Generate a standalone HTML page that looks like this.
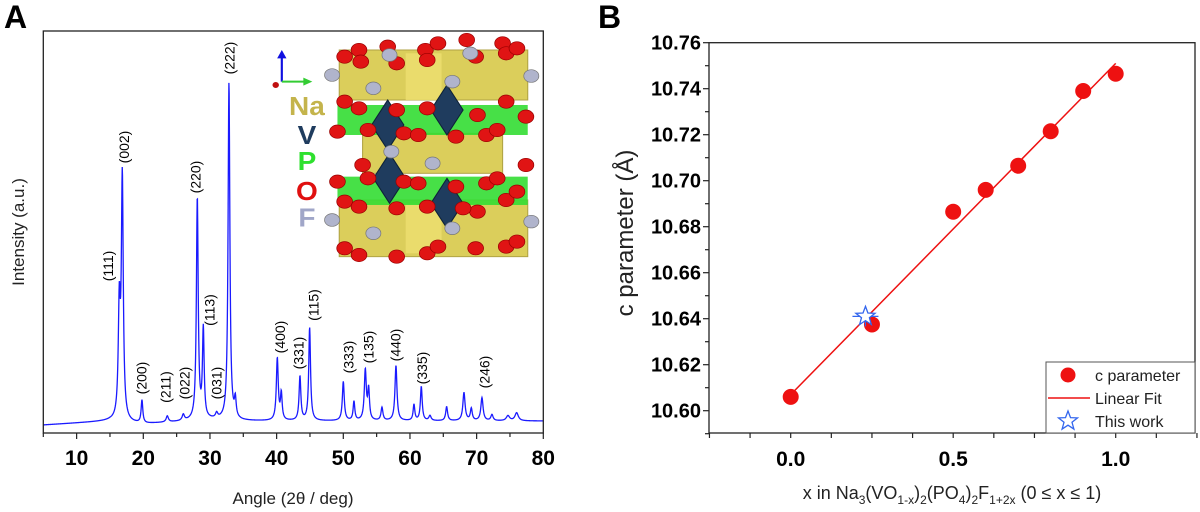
<!DOCTYPE html>
<html><head><meta charset="utf-8"><style>
html,body{margin:0;padding:0;background:#fff;width:1200px;height:512px;overflow:hidden}
svg{display:block;font-family:"Liberation Sans",Arial,sans-serif}
</style></head><body>
<svg id="fig" width="1200" height="512" viewBox="0 0 1200 512">
<text x="4" y="28" font-size="32" font-weight="bold">A</text>
<text x="598" y="28" font-size="32" font-weight="bold">B</text>
<g id="pa"></g>
<g id="inset" transform="scale(0.359,0.3333)"></g>
<g id="pb"></g>
</svg>
<script>
// ---------- Panel A data ----------
const peakPos   = [16.4,16.85,19.8,23.6,26.0,28.1,29.0,31.0,32.85,33.8,40.1,40.7,43.5,44.95,50.0,51.6,53.3,53.8,55.8,57.9,60.6,61.7,63.0,65.5,68.1,69.2,70.8,72.3,74.7,76.0];
const peakHeight= [110,240,23,6,6,222,89,5,338,18,62,26,44,93,39,19,50,30,13,55,16,34,5,14,28,12,23,6,5,8];
const peakWidth = [0.18,0.17,0.15,0.2,0.2,0.16,0.15,0.2,0.16,0.15,0.17,0.15,0.16,0.16,0.17,0.15,0.18,0.15,0.17,0.18,0.15,0.16,0.2,0.17,0.2,0.17,0.2,0.2,0.3,0.3];
const baseX = [5,10,15,20,25,30,35,40,50,60,70,80];
const baseY = [8,10,12,9,11,13,12,12,12,12,12,12];
const hklLabels = ["(111)","(002)","(200)","(211)","(022)","(220)","(113)","(031)","(222)","(400)","(331)","(115)","(333)","(135)","(440)","(335)","(246)"];
const hklX = [14.7,17.1,19.75,23.3,26.2,27.8,29.9,31.0,32.9,40.5,43.3,45.5,50.8,53.8,57.8,61.8,71.2];
const hklY = [167,286,55,46,50,256,123,50,375,96,80,128,76,86,88,65,61];
const xTicksA = [10,20,30,40,50,60,70,80];
const NS="http://www.w3.org/2000/svg";
function mk(parent,tag,attrs,text){const e=document.createElementNS(NS,tag);for(const k in attrs)e.setAttribute(k,attrs[k]);if(text!==undefined)e.textContent=text;parent.appendChild(e);return e;}
const A={l:43.3,r:543.3,t:31,b:433};
const ax=d=>A.l+(d-5)*(A.r-A.l)/75;
const ay=v=>A.b-v;
const pa=document.getElementById('pa');
function baseAt(d){for(let i=0;i<baseX.length-1;i++){if(d<=baseX[i+1]){const f=(d-baseX[i])/(baseX[i+1]-baseX[i]);return baseY[i]+f*(baseY[i+1]-baseY[i]);}}return baseY[baseY.length-1];}
let pts=[];
for(let d=5;d<=80.001;d+=0.04){let v=baseAt(d);for(let i=0;i<peakPos.length;i++){const z=(d-peakPos[i])/peakWidth[i];v+=peakHeight[i]/(1+z*z);}pts.push(ax(d).toFixed(2)+","+ay(v).toFixed(2));}
let sp=mk(pa,'polyline',{points:pts.join(' '),fill:'none',stroke:'#1a1aff','stroke-width':1.3});


let fr=mk(pa,'rect',{x:A.l,y:A.t,width:A.r-A.l,height:A.b-A.t,fill:'none',stroke:'#222','stroke-width':1.3});


for(let d=5;d<=80;d+=5){mk(pa,'line',{x1:ax(d),x2:ax(d),y1:A.b,y2:A.b+(d%10==0?6:4),stroke:'#222','stroke-width':1.2});}
xTicksA.forEach(d=>{let t=mk(pa,'text',{x:ax(d),y:465,'font-size':21,'font-weight':'bold','text-anchor':'middle'},d);

});
let xt=mk(pa,'text',{x:293,y:504,'font-size':17,'text-anchor':'middle',fill:'#222'},'Angle (2θ / deg)');


let yt=mk(pa,'text',{x:0,y:0,'font-size':17,'text-anchor':'middle',fill:'#222',transform:'translate(24,232) rotate(-90)'},'Intensity (a.u.)');


hklLabels.forEach((s,i)=>{let t=mk(pa,'text',{x:0,y:0,'font-size':14,'text-anchor':'middle',transform:`translate(${ax(hklX[i])+5},${ay(hklY[i])}) rotate(-90)`},s);

});

// ---------- inset ----------
const ins=document.getElementById('inset');
[[945,150,525,150],[945,600,525,170],[1010,400,390,120]].forEach(r=>{mk(ins,'rect',{x:r[0],y:r[1],width:r[2],height:r[3],fill:'#d8c94a',opacity:0.9,stroke:'#a89a30','stroke-width':3});});
mk(ins,'rect',{x:1130,y:160,width:100,height:140,fill:'#eee070',opacity:0.8});
mk(ins,'rect',{x:1130,y:610,width:100,height:150,fill:'#eee070',opacity:0.8});
[[940,315,530,90],[940,530,530,85]].forEach(r=>{mk(ins,'rect',{x:r[0],y:r[1],width:r[2],height:r[3],fill:'#33dd33',opacity:0.9});});
[[1080,375],[1245,330],[1085,535],[1245,610]].forEach(c=>{mk(ins,'polygon',{points:`${c[0]},${c[1]-75} ${c[0]+45},${c[1]} ${c[0]},${c[1]+75} ${c[0]-45},${c[1]}`,fill:'#1f3c5e',stroke:'#0e2238','stroke-width':3});});
const red=[[960,170],[1000,150],[1005,185],[1080,140],[1105,190],[1185,150],[1190,180],[1220,130],[1300,120],[1325,170],[1400,130],[1410,160],[1440,145],[960,305],[1000,325],[1105,330],[1190,325],[1270,410],[1330,345],[1410,305],[1465,350],[940,395],[1025,390],[1125,400],[1165,405],[1355,405],[1385,390],[1465,495],[1025,535],[940,545],[1125,545],[1165,550],[1270,560],[1355,550],[1385,535],[1410,600],[1440,575],[960,605],[1000,620],[1105,625],[1190,620],[1330,635],[1290,625],[960,745],[1000,765],[1105,770],[1190,760],[1220,740],[1325,745],[1410,740],[1440,725],[1010,495]];
red.forEach(p=>mk(ins,'ellipse',{cx:p[0],cy:p[1],rx:22,ry:20,fill:'#e01414',stroke:'#900','stroke-width':2}));
const grey=[[925,225],[1040,265],[1260,245],[1480,228],[1090,455],[1205,490],[925,660],[1040,700],[1260,685],[1480,665],[1085,165],[1310,160]];
grey.forEach(p=>mk(ins,'ellipse',{cx:p[0],cy:p[1],rx:21,ry:19,fill:'#b0b4cc',stroke:'#777','stroke-width':2}));
mk(ins,'line',{x1:785,y1:245,x2:785,y2:165,stroke:'#1010e0','stroke-width':6});
mk(ins,'polygon',{points:'772,175 798,175 785,150',fill:'#1010e0'});
mk(ins,'line',{x1:785,y1:245,x2:850,y2:245,stroke:'#33cc33','stroke-width':6});
mk(ins,'polygon',{points:'845,233 845,257 870,245',fill:'#33cc33'});
mk(ins,'circle',{cx:768,cy:255,r:9,fill:'#c01010'});
const elems=[['Na','#c4b44c',345],['V','#1f3c5e',432],['P','#2ee02e',510],['O','#e01010',600],['F','#a0a6c8',680]];
elems.forEach(e=>{let t=mk(ins,'text',{x:855,y:e[2],'font-size':78,'font-weight':'bold','text-anchor':'middle',fill:e[1]},e[0]);

});

// ---------- Panel B data ----------
const xVals = [0,0.25,0.5,0.6,0.7,0.8,0.9,1.0];
const cVals = [10.606,10.6375,10.6865,10.696,10.7065,10.7215,10.739,10.7465];
const fitX = [0,1.0];
const fitY = [10.607,10.751];
const starX = [0.23];
const starY = [10.641];
const yTicksB = [10.60,10.62,10.64,10.66,10.68,10.70,10.72,10.74,10.76];
const xTicksB = [0.0,0.5,1.0];
const B={l:709,r:1195,t:42.7,b:433};
const bx=v=>790.7+v*325;
const by=v=>410.7-(v-10.60)/0.02*46;
const pb=document.getElementById('pb');
let fb=mk(pb,'rect',{x:B.l,y:B.t,width:B.r-B.l,height:B.b-B.t,fill:'none',stroke:'#222','stroke-width':1.3});


for(let i=0;i<=16;i++){const v=10.60+i*0.01;const y=by(v);if(y<B.t-0.5)break;mk(pb,'line',{x1:B.l,x2:B.l-(i%2==0?6:4),y1:y,y2:y,stroke:'#222','stroke-width':1.2});}
mk(pb,'line',{x1:B.l,x2:B.l-4,y1:by(10.59),y2:by(10.59),stroke:'#222','stroke-width':1.2});
for(let v=-0.25;v<=1.2501;v+=0.125){mk(pb,'line',{x1:bx(v),x2:bx(v),y1:B.b,y2:B.b+5,stroke:'#222','stroke-width':1.2});}
yTicksB.forEach(v=>{let t=mk(pb,'text',{x:701,y:by(v)+7,'font-size':20,'font-weight':'bold','text-anchor':'end'},v.toFixed(2));

});
xTicksB.forEach(v=>{let t=mk(pb,'text',{x:bx(v),y:466,'font-size':21,'font-weight':'bold','text-anchor':'middle'},v.toFixed(1));

});
let fl=mk(pb,'line',{x1:bx(fitX[0]),y1:by(fitY[0]),x2:bx(fitX[1]),y2:by(fitY[1]),stroke:'#ee1111','stroke-width':1.5});


xVals.forEach((v,i)=>{let c=mk(pb,'circle',{cx:bx(v),cy:by(cVals[i]),r:8,fill:'#ee1111'});

});
function star(cx,cy,R){let p=[];for(let k=0;k<10;k++){const r=k%2?R*0.42:R;const a=-Math.PI/2+k*Math.PI/5;p.push((cx+r*Math.cos(a)).toFixed(1)+','+(cy+r*Math.sin(a)).toFixed(1));}return p.join(' ');}
starX.forEach((v,i)=>{const cx=bx(v),cy=by(starY[i]);
mk(pb,'line',{x1:cx-13,x2:cx+13,y1:cy,y2:cy,stroke:'#3366ee','stroke-width':1.2});
mk(pb,'line',{x1:cx,x2:cx,y1:cy-10,y2:cy+10,stroke:'#3366ee','stroke-width':1.2});
let s=mk(pb,'polygon',{points:star(cx,cy,10),fill:'#fff',stroke:'#3366ee','stroke-width':1.3});

});
let lg=mk(pb,'g',{});


mk(lg,'rect',{x:1046,y:362,width:149,height:71,fill:'#fff',stroke:'#555','stroke-width':1});
mk(lg,'circle',{cx:1068,cy:375,r:7.5,fill:'#ee1111'});
mk(lg,'line',{x1:1048,x2:1090,y1:398,y2:398,stroke:'#ee1111','stroke-width':1.5});
mk(lg,'polygon',{points:star(1068,421,10),fill:'#fff',stroke:'#3366ee','stroke-width':1.3});
[['c parameter',381],['Linear Fit',404],['This work',427]].forEach(e=>{let t=mk(lg,'text',{x:1095,y:e[1],'font-size':16,fill:'#222'},e[0]);

});
let byt=mk(pb,'text',{x:0,y:0,'font-size':24,'text-anchor':'middle',fill:'#222',transform:'translate(633,233) rotate(-90)'},'c parameter (Å)');


let bxt=mk(pb,'text',{x:952,y:499,'font-size':18,'text-anchor':'middle',fill:'#222'});


bxt.innerHTML='x in Na<tspan font-size="12" dy="5">3</tspan><tspan dy="-5">(VO</tspan><tspan font-size="12" dy="5">1-x</tspan><tspan dy="-5">)</tspan><tspan font-size="12" dy="5">2</tspan><tspan dy="-5">(PO</tspan><tspan font-size="12" dy="5">4</tspan><tspan dy="-5">)</tspan><tspan font-size="12" dy="5">2</tspan><tspan dy="-5">F</tspan><tspan font-size="12" dy="5">1+2x</tspan><tspan dy="-5"> (0 ≤ x ≤ 1)</tspan>';
</script>
</body></html>
